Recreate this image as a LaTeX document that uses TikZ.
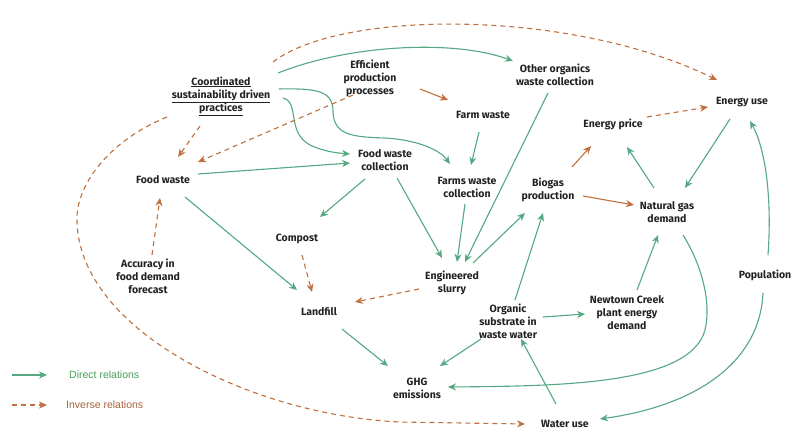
\documentclass[tikz,border=0pt]{standalone}
\usepackage{fontspec}
\setmainfont{Fira Sans}
\newfontfamily\legendfont{Liberation Sans}
\usetikzlibrary{arrows.meta,calc}
\definecolor{dgreen}{RGB}{84,168,130}
\definecolor{ibrown}{RGB}{192,112,62}
\definecolor{ltgreen}{RGB}{70,160,85}
\definecolor{ltbrown}{RGB}{165,100,65}
\definecolor{txt}{RGB}{34,34,34}
\begin{document}
\begin{tikzpicture}[x=1pt,y=-1pt,
  lbl/.style={font=\bfseries\fontsize{10.5}{13}\selectfont, text=txt, align=center, inner sep=1pt},
  tip/.style={-{Stealth[length=8pt,width=7pt,inset=2.5pt]}},
  dir/.style={draw=dgreen, line width=1.1pt, tip},
  invs/.style={draw=ibrown, line width=1.1pt, tip},
  inv/.style={draw=ibrown, line width=1.1pt, dash pattern=on 5pt off 4pt, tip},
  leg/.style={font=\legendfont\fontsize{10.5}{12}\selectfont, anchor=west, inner sep=0pt}]
\fill[white] (0,0) rectangle (800,444);
\useasboundingbox (0,0) rectangle (800,444);

% nodes
\node[lbl] (cs) at (221,96) {\underline{Coordinated}\\\underline{sustainability driven}\\\underline{practices}};
\node[lbl] (eff) at (370,78) {Efficient\\production\\processes};
\node[lbl] (oth) at (555,75) {Other organics\\waste collection};
\node[lbl] (eu) at (742,102) {Energy use};
\node[lbl] (farm) at (483,115) {Farm waste};
\node[lbl] (ep) at (613,124) {Energy price};
\node[lbl] (fw) at (163,180) {Food waste};
\node[lbl] (fwc) at (385,160) {Food waste\\collection};
\node[lbl] (fac) at (467,187) {Farms waste\\collection};
\node[lbl] (bio) at (548,190) {Biogas\\production};
\node[lbl] (ngd) at (667,212) {Natural gas\\demand};
\node[lbl] (comp) at (297,239) {Compost};
\node[lbl] (acc) at (148,276) {Accuracy in\\food demand\\forecast};
\node[lbl] (es) at (452,283) {Engineered\\slurry};
\node[lbl] (pop) at (765,275) {Population};
\node[lbl] (lf) at (319,312) {Landfill};
\node[lbl] (nc) at (627,313) {Newtown Creek\\plant energy\\demand};
\node[lbl] (os) at (508,321) {Organic\\substrate in\\waste water};
\node[lbl] (ghg) at (417,388) {GHG\\emissions};
\node[lbl] (wu) at (565,424) {Water use};

% legend
\coordinate (l1a) at (12,375);
\coordinate (l1b) at (47,375);
\coordinate (l2a) at (12,405);
\coordinate (l2b) at (47,405);
\draw[dir] (l1a) -- (l1b);
\draw[inv] (l2a) -- (l2b);
\node[leg, text=ltgreen] (legd) at (69,375) {Direct relations};
\node[leg, text=ltbrown] (legi) at (66,405) {Inverse relations};

% direct relations
\draw[dir] ($(cs)+(57,-23)$) .. controls (348,45) and (453,39) .. ($(oth)+(-42,-14)$);
\draw[dir] ($(cs)+(58,-7)$) .. controls (320,88) and (333,92) .. (333,112)
  .. controls (334,135) and (352,137) .. (385,138)
  .. controls (418,140) and (440,150) .. ($(fac)+(-17,-23)$);
\draw[dir] ($(cs)+(62,2)$) .. controls (300,102) and (286,132) .. (310,145)
  .. controls (325,152) and (338,153) .. ($(fwc)+(-35,-6)$);
\draw[dir] ($(fw)+(35,-6)$) -- ($(fwc)+(-35,3)$);
\draw[dir] ($(fwc)+(-20,19)$) -- ($(comp)+(23,-22)$);
\draw[dir] ($(fwc)+(12,18)$) -- ($(es)+(-10,-25)$);
\draw[dir] ($(fac)+(-2,17)$) -- ($(es)+(5,-21)$);
\draw[dir] ($(farm)+(-4,17)$) -- ($(fac)+(4,-22)$);
\draw[dir] ($(oth)+(-7,18)$) -- ($(es)+(13,-21)$);
\draw[dir] ($(es)+(21,-20)$) -- ($(bio)+(-23,23)$);
\draw[dir] ($(os)+(7,-21)$) -- ($(bio)+(-5,23)$);
\draw[dir] ($(fw)+(22,17)$) -- ($(lf)+(-22,-22)$);
\draw[dir] ($(lf)+(23,17)$) -- ($(ghg)+(-29,-22)$);
\draw[dir] ($(os)+(-27,18)$) -- ($(ghg)+(23,-22)$);
\draw[dir] ($(os)+(35,-4)$) -- ($(nc)+(-42,1)$);
\draw[dir] ($(wu)+(-9,-20)$) -- ($(os)+(13,18)$);
\draw[dir] ($(nc)+(10,-23)$) -- ($(ngd)+(-9,23)$);
\draw[dir] ($(ngd)+(16,23)$) .. controls (700,262) and (712,300) .. (705,330)
  .. controls (690,385) and (560,386) .. ($(ghg)+(31,-1)$);
\draw[dir] ($(pop)+(-2,18)$) .. controls (760,360) and (700,405) .. ($(wu)+(35,-5)$);
\draw[dir] ($(pop)+(3,-20)$) .. controls (772,200) and (766,150) .. ($(eu)+(8,19)$);
\draw[dir] ($(eu)+(-12,17)$) -- ($(ngd)+(18,-24)$);
\draw[dir] ($(ngd)+(-13,-24)$) -- ($(ep)+(14,23)$);

% inverse (solid brown)
\draw[invs] ($(eff)+(50,11)$) -- ($(farm)+(-35,-15)$);
\draw[invs] ($(bio)+(35,6)$) -- ($(ngd)+(-33,-7)$);
\draw[invs] ($(bio)+(24,-23)$) -- ($(ep)+(-22,22)$);

% inverse relations (dashed)
\draw[inv] ($(cs)+(52,-34)$) .. controls (340,10) and (570,8) .. ($(eu)+(-25,-22)$);
\draw[inv] ($(cs)+(-21,30)$) -- ($(fw)+(15,-23)$);
\draw[inv] ($(eff)+(-17,17)$) -- ($(fw)+(35,-18)$);
\draw[inv] ($(acc)+(4,-21)$) -- ($(fw)+(-3,18)$);
\draw[inv] ($(comp)+(5,16)$) -- ($(lf)+(-7,-20)$);
\draw[inv] ($(es)+(-33,6)$) -- ($(lf)+(36,-10)$);
\draw[inv] ($(ep)+(34,-7)$) -- ($(eu)+(-34,5)$);
\draw[inv] ($(cs)+(-54,21)$) .. controls (110,140) and (75,185) .. (77,222)
  .. controls (80,330) and (250,415) .. (400,422) -- ($(wu)+(-40,0)$);
\end{tikzpicture}
\end{document}
